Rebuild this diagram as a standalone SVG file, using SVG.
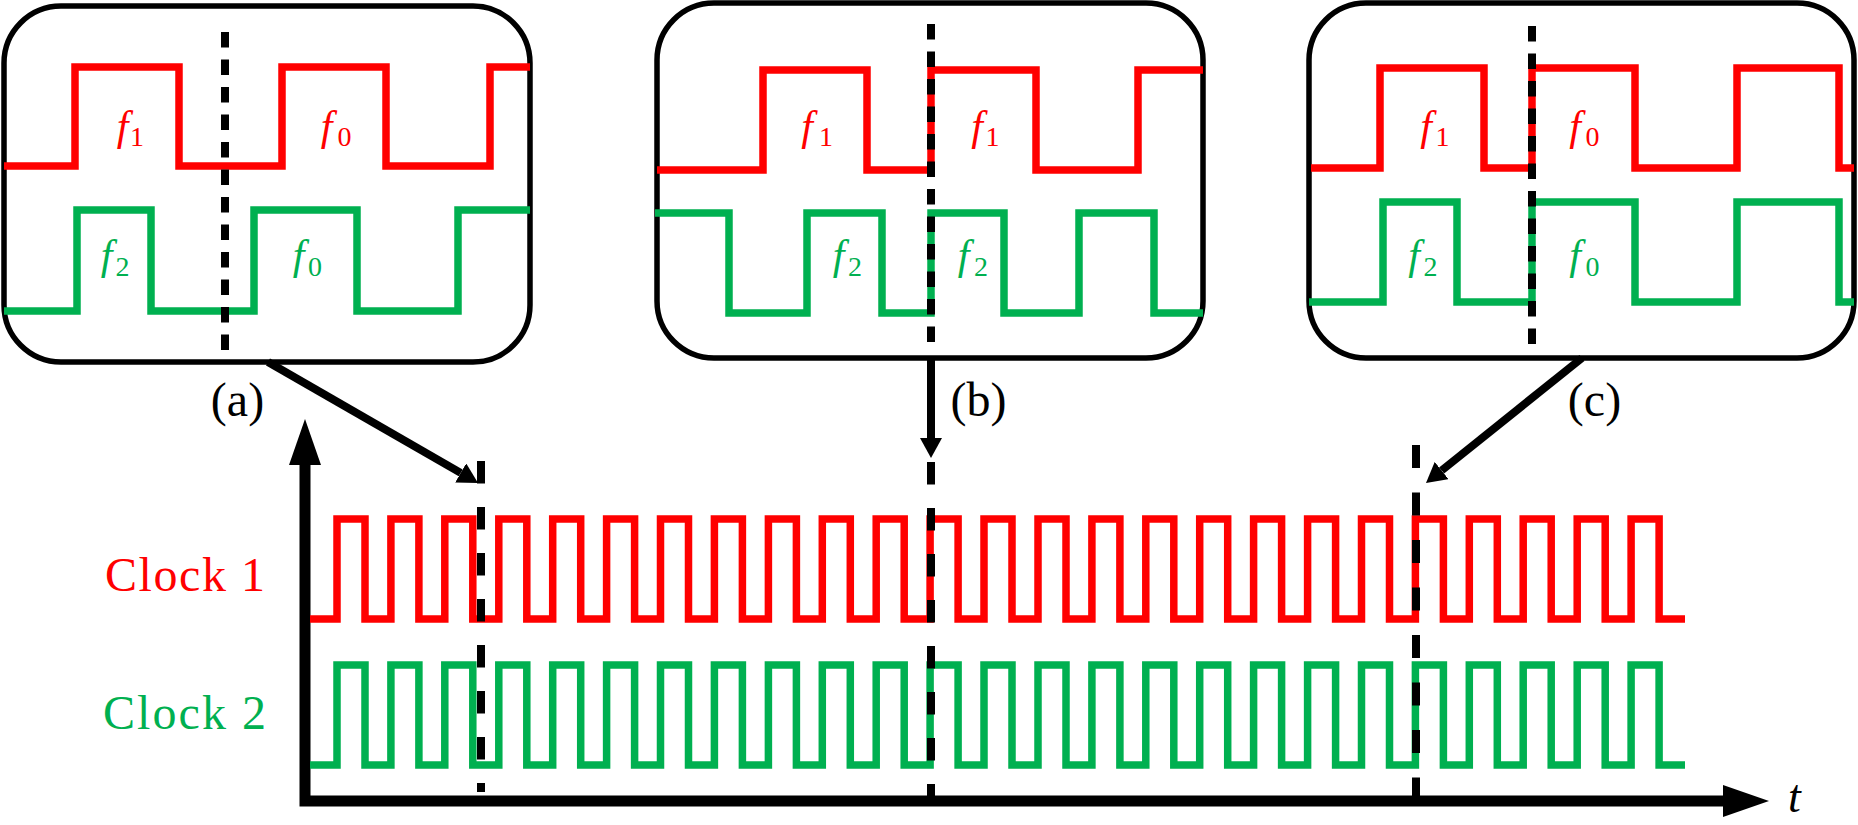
<svg xmlns="http://www.w3.org/2000/svg" width="1858" height="825" viewBox="0 0 1858 825">
<style>
.box{fill:none;stroke:#000;stroke-width:5.5}
.wr{fill:none;stroke:#FF0000;stroke-width:7.5;stroke-linejoin:miter;stroke-linecap:butt}
.wg{fill:none;stroke:#00B050;stroke-width:7.5;stroke-linejoin:miter;stroke-linecap:butt}
.dp{stroke:#000;stroke-width:8;stroke-dasharray:15.5 12}
.db{stroke:#000;stroke-width:8;stroke-dasharray:22.5 23.5}
.arr{stroke:#000;stroke-width:8;fill:none}
.axis{fill:none;stroke:#000;stroke-width:11;stroke-linejoin:miter}
.lr{fill:#FF0000}
.lg{fill:#00B050}
.fi{font-style:italic;font-size:42px;text-anchor:middle}
.sb{font-size:28px;text-anchor:middle}
.cap{font-size:48px;text-anchor:middle;fill:#000}
.clk{font-size:48px}
</style>
<defs>
<marker id="ah" viewBox="0 0 20 22" refX="0" refY="11" markerWidth="20" markerHeight="22" markerUnits="userSpaceOnUse" orient="auto">
<path d="M0,0 L20,11 L0,22 z" fill="#000"/>
</marker>
</defs>
<rect width="1858" height="825" fill="#fff"/>

<g id="panel-a">
<rect class="box" x="4" y="6" width="526" height="356" rx="57"/>
<path class="wr" d="M4,166 H75 V67 H179 V166 H282 V67 H386 V166 H490 V67 H530"/>
<path class="wg" d="M4,311 H77 V210 H151 V311 H254 V210 H357 V311 H458 V210 H530"/>
<text class="lr" font-family="'Liberation Serif', 'DejaVu Serif', serif"><tspan class="fi" x="122.5" y="140">f</tspan><tspan class="sb" x="137" y="146">1</tspan></text>
<text class="lr" font-family="'Liberation Serif', 'DejaVu Serif', serif"><tspan class="fi" x="326.5" y="140">f</tspan><tspan class="sb" x="344.5" y="146">0</tspan></text>
<text class="lg" font-family="'Liberation Serif', 'DejaVu Serif', serif"><tspan class="fi" x="106.5" y="269">f</tspan><tspan class="sb" x="122.5" y="276">2</tspan></text>
<text class="lg" font-family="'Liberation Serif', 'DejaVu Serif', serif"><tspan class="fi" x="298.5" y="269">f</tspan><tspan class="sb" x="315" y="276">0</tspan></text>
<line class="dp" x1="225" y1="32" x2="225" y2="350"/>
</g>

<g id="panel-b">
<rect class="box" x="657" y="3" width="546" height="355" rx="57"/>
<path class="wr" d="M657,170 H763 V70 H867 V170 H931 V70 H1036 V170 H1138 V70 H1203"/>
<path class="wg" d="M655,213 H729 V313 H807 V213 H882 V313 H931 V213 H1004 V313 H1079 V213 H1154 V313 H1203"/>
<text class="lr" font-family="'Liberation Serif', 'DejaVu Serif', serif"><tspan class="fi" x="807" y="140">f</tspan><tspan class="sb" x="826" y="146">1</tspan></text>
<text class="lr" font-family="'Liberation Serif', 'DejaVu Serif', serif"><tspan class="fi" x="977" y="140">f</tspan><tspan class="sb" x="992.5" y="146">1</tspan></text>
<text class="lg" font-family="'Liberation Serif', 'DejaVu Serif', serif"><tspan class="fi" x="838.5" y="269">f</tspan><tspan class="sb" x="855" y="276">2</tspan></text>
<text class="lg" font-family="'Liberation Serif', 'DejaVu Serif', serif"><tspan class="fi" x="963.5" y="269">f</tspan><tspan class="sb" x="981" y="276">2</tspan></text>
<line class="dp" x1="931" y1="24" x2="931" y2="342"/>
</g>

<g id="panel-c">
<rect class="box" x="1309" y="3" width="545" height="355" rx="57"/>
<path class="wr" d="M1311,168 H1380 V68 H1484 V168 H1532 V68 H1635 V168 H1737 V68 H1839 V168 H1854"/>
<path class="wg" d="M1309,302 H1383 V202 H1457 V302 H1532 V202 H1635 V302 H1737 V202 H1839 V302 H1854"/>
<text class="lr" font-family="'Liberation Serif', 'DejaVu Serif', serif"><tspan class="fi" x="1426" y="140">f</tspan><tspan class="sb" x="1442.5" y="146">1</tspan></text>
<text class="lr" font-family="'Liberation Serif', 'DejaVu Serif', serif"><tspan class="fi" x="1575" y="140">f</tspan><tspan class="sb" x="1592.5" y="146">0</tspan></text>
<text class="lg" font-family="'Liberation Serif', 'DejaVu Serif', serif"><tspan class="fi" x="1414" y="269">f</tspan><tspan class="sb" x="1430.5" y="276">2</tspan></text>
<text class="lg" font-family="'Liberation Serif', 'DejaVu Serif', serif"><tspan class="fi" x="1575" y="269">f</tspan><tspan class="sb" x="1592.5" y="276">0</tspan></text>
<line class="dp" x1="1532" y1="26" x2="1532" y2="344"/>
</g>

<g id="axes">
<path class="axis" d="M305,462 V801 H1726"/>
<polygon points="305,419 321,465 289,465" fill="#000"/>
<polygon points="1769,801 1723,785 1723,817" fill="#000"/>
<text x="1794.5" y="812" font-family="'Liberation Serif', 'DejaVu Serif', serif" font-size="46" font-style="italic" text-anchor="middle">t</text>
</g>

<g id="clock1">
<text class="lr clk" font-family="'Liberation Serif', 'DejaVu Serif', serif" x="105" y="591" textLength="160" lengthAdjust="spacing">Clock 1</text>
<path class="wr" d="M310,619 H337 V519 H365 V619 H390.9 V519 H418.9 V619 H444.8 V519 H472.8 V619 H498.8 V519 H526.8 V619 H552.7 V519 H580.7 V619 H606.6 V519 H634.6 V619 H660.5 V519 H688.5 V619 H714.4 V519 H742.4 V619 H768.4 V519 H796.4 V619 H822.3 V519 H850.3 V619 H876.2 V519 H904.2 V619 H930.1 V519 H958.1 V619 H984 V519 H1012 V619 H1038 V519 H1066 V619 H1091.9 V519 H1119.9 V619 H1145.8 V519 H1173.8 V619 H1199.7 V519 H1227.7 V619 H1253.6 V519 H1281.6 V619 H1307.6 V519 H1335.6 V619 H1361.5 V519 H1389.5 V619 H1415.4 V519 H1443.4 V619 H1469.3 V519 H1497.3 V619 H1523.2 V519 H1551.2 V619 H1577.2 V519 H1605.2 V619 H1631.1 V519 H1659.1 V619 H1685"/>
</g>

<g id="clock2">
<text class="lg clk" font-family="'Liberation Serif', 'DejaVu Serif', serif" x="103" y="729" textLength="163" lengthAdjust="spacing">Clock 2</text>
<path class="wg" d="M310,765 H337 V665 H365 V765 H390.9 V665 H418.9 V765 H444.8 V665 H472.8 V765 H498.8 V665 H526.8 V765 H552.7 V665 H580.7 V765 H606.6 V665 H634.6 V765 H660.5 V665 H688.5 V765 H714.4 V665 H742.4 V765 H768.4 V665 H796.4 V765 H822.3 V665 H850.3 V765 H876.2 V665 H904.2 V765 H930.1 V665 H958.1 V765 H984 V665 H1012 V765 H1038 V665 H1066 V765 H1091.9 V665 H1119.9 V765 H1145.8 V665 H1173.8 V765 H1199.7 V665 H1227.7 V765 H1253.6 V665 H1281.6 V765 H1307.6 V665 H1335.6 V765 H1361.5 V665 H1389.5 V765 H1415.4 V665 H1443.4 V765 H1469.3 V665 H1497.3 V765 H1523.2 V665 H1551.2 V765 H1577.2 V665 H1605.2 V765 H1631.1 V665 H1659.1 V765 H1685"/>
</g>

<g id="markers">
<line class="db" x1="481" y1="461" x2="481" y2="792"/>
<line class="db" x1="931" y1="462" x2="931" y2="801"/>
<line class="db" x1="1416" y1="445" x2="1416" y2="801" style="stroke-dasharray:23 24.5"/>
</g>

<g id="connectors">
<line class="arr" x1="268" y1="362" x2="460.7" y2="472.9" marker-end="url(#ah)"/>
<line class="arr" x1="931" y1="358" x2="931" y2="438" marker-end="url(#ah)"/>
<line class="arr" x1="1582" y1="358" x2="1441.6" y2="470.5" marker-end="url(#ah)"/>
</g>

<g id="captions">
<text class="cap" font-family="'Liberation Serif', 'DejaVu Serif', serif" x="237.5" y="416">(a)</text>
<text class="cap" font-family="'Liberation Serif', 'DejaVu Serif', serif" x="978.5" y="416">(b)</text>
<text class="cap" font-family="'Liberation Serif', 'DejaVu Serif', serif" x="1594.5" y="416">(c)</text>
</g>
</svg>
